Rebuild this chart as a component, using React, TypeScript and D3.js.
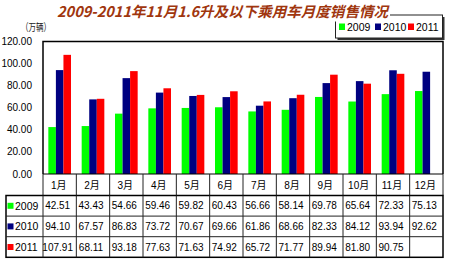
import React from "react";
import * as d3 from "d3";

const months = ["1月","2月","3月","4月","5月","6月","7月","8月","9月","10月","11月","12月"];
const seriesNames = ["2009","2010","2011"];
const v2009 = [42.51,43.43,54.66,59.46,59.82,60.43,56.66,58.14,69.78,65.64,72.33,75.13];
const v2010 = [94.10,67.57,86.83,73.72,70.67,69.66,61.86,68.66,82.33,84.12,93.94,92.62];
const v2011: (number|null)[] = [107.91,68.11,93.18,77.63,71.63,74.92,65.72,71.77,89.94,81.80,90.75,null];
const yTicks = [0,20,40,60,80,100,120];
const colors = ["#00ff00","#000080","#ff0000"];

const W = 450, H = 260;
const L = 43, R = 443, T = 41.5, B = 174;
const monthRowBottom = 195.5;
const rowH = 20.6;
const tableLeft = 6;

export default function App() {
  const series = [v2009, v2010, v2011];
  const x = d3.scaleBand<string>().domain(months).range([L, R]).paddingInner(0.32).paddingOuter(0.16);
  const xs = d3.scaleBand<string>().domain(seriesNames).range([0, x.bandwidth()]);
  const y = d3.scaleLinear().domain([0, 120]).range([B, T]);
  const step = x.step();
  const cellLeft = (i: number) => L + i * step;
  const font = "'Liberation Sans', Arial, sans-serif";
  const cjk = "'Liberation Sans', 'Noto Sans CJK SC', sans-serif";
  return (
    <svg width={W} height={H} style={{ position: "absolute", left: 0, top: 0, background: "#fff" }} fontFamily={font}>
      <rect x={0} y={0} width={W} height={H} fill="#fff" />
      {/* legend */}
      <rect x={337.5} y={17} width={107} height={23} fill="#333" />
      <rect x={335.5} y={15} width={107} height={23} fill="#fff" stroke="#222" strokeWidth={1} />
      {seriesNames.map((s, i) => {
        const lx = [339, 375, 408][i];
        return (
          <g key={s}>
            <rect x={lx} y={23.5} width={6} height={6.5} fill={colors[i]} />
            <text x={lx + 8} y={30.5} fontSize={10.5} fill="#000">{s}</text>
          </g>
        );
      })}
      {/* title with white backing */}
      <rect x={55} y={0} width={335} height={21.5} fill="#fff" />
      <text x={222.5} y={16.5} textAnchor="middle" fontSize={14.5} fontStyle="italic" fontWeight="bold"
        fill="#a0360e" fontFamily="'Noto Sans CJK SC', sans-serif" textLength={331} lengthAdjust="spacingAndGlyphs">2009-2011年11月1.6升及以下乘用车月度销售情况</text>
      <text x={21} y={30.5} fontSize={10.5} fill="#222" fontFamily="'Noto Sans CJK SC', sans-serif" textLength={30} lengthAdjust="spacingAndGlyphs">（万辆）</text>
      {/* y ticks */}
      {yTicks.map(t => (
        <text key={t} x={32} y={y(t) + 3.5} textAnchor="end" fontSize={10} fill="#000">{t.toFixed(2)}</text>
      ))}
      {/* bars */}
      {months.map((m, i) => (
        <g key={m}>
          {series.map((sv, j) => {
            const v = sv[i];
            if (v == null) return null;
            return <rect key={j} x={(x(m) as number) + (xs(seriesNames[j]) as number)} y={y(v)}
              width={xs.bandwidth()} height={B - y(v)} fill={colors[j]} />;
          })}
        </g>
      ))}
      {/* plot border */}
      <path d={`M${L},${B} V${T} H${R} V${B}`} fill="none" stroke="#000" strokeWidth={1.5} />
      <line x1={L} x2={R} y1={B} y2={B} stroke="#000" strokeWidth={1} />
      {/* month row */}
      {months.map((m, i) => (
        <g key={m}>
          <line x1={cellLeft(i)} x2={cellLeft(i)} y1={B} y2={monthRowBottom} stroke="#222" strokeWidth={1} />
          <text x={cellLeft(i) + step / 2 - 1} y={188.5} textAnchor="middle" fontSize={10} fill="#000" fontFamily={cjk}>{m}</text>
        </g>
      ))}
      <line x1={R} x2={R} y1={B} y2={monthRowBottom} stroke="#222" strokeWidth={1} />
      {/* table */}
      <rect x={tableLeft} y={monthRowBottom} width={R - tableLeft} height={rowH * 3} fill="none" stroke="#000" strokeWidth={1.5} />
      {[1, 2].map(r => (
        <line key={r} x1={tableLeft} x2={R} y1={monthRowBottom + r * rowH} y2={monthRowBottom + r * rowH} stroke="#222" strokeWidth={1} />
      ))}
      {months.map((m, i) => (
        <line key={m} x1={cellLeft(i)} x2={cellLeft(i)} y1={monthRowBottom} y2={monthRowBottom + 3 * rowH} stroke="#222" strokeWidth={1} />
      ))}
      {seriesNames.map((s, r) => {
        const cy = monthRowBottom + r * rowH + rowH / 2;
        return (
          <g key={s}>
            <rect x={7.5} y={cy - 3} width={6} height={6} fill={colors[r]} />
            <text x={15} y={cy + 4} fontSize={10.5} fill="#000">{s}</text>
            {series[r].map((v, i) => v == null ? null : (
              <text key={i} x={cellLeft(i) + step / 2 - 2} y={cy + 3.5} textAnchor="middle" fontSize={10} fill="#000">{v.toFixed(2)}</text>
            ))}
          </g>
        );
      })}
    </svg>
  );
}
